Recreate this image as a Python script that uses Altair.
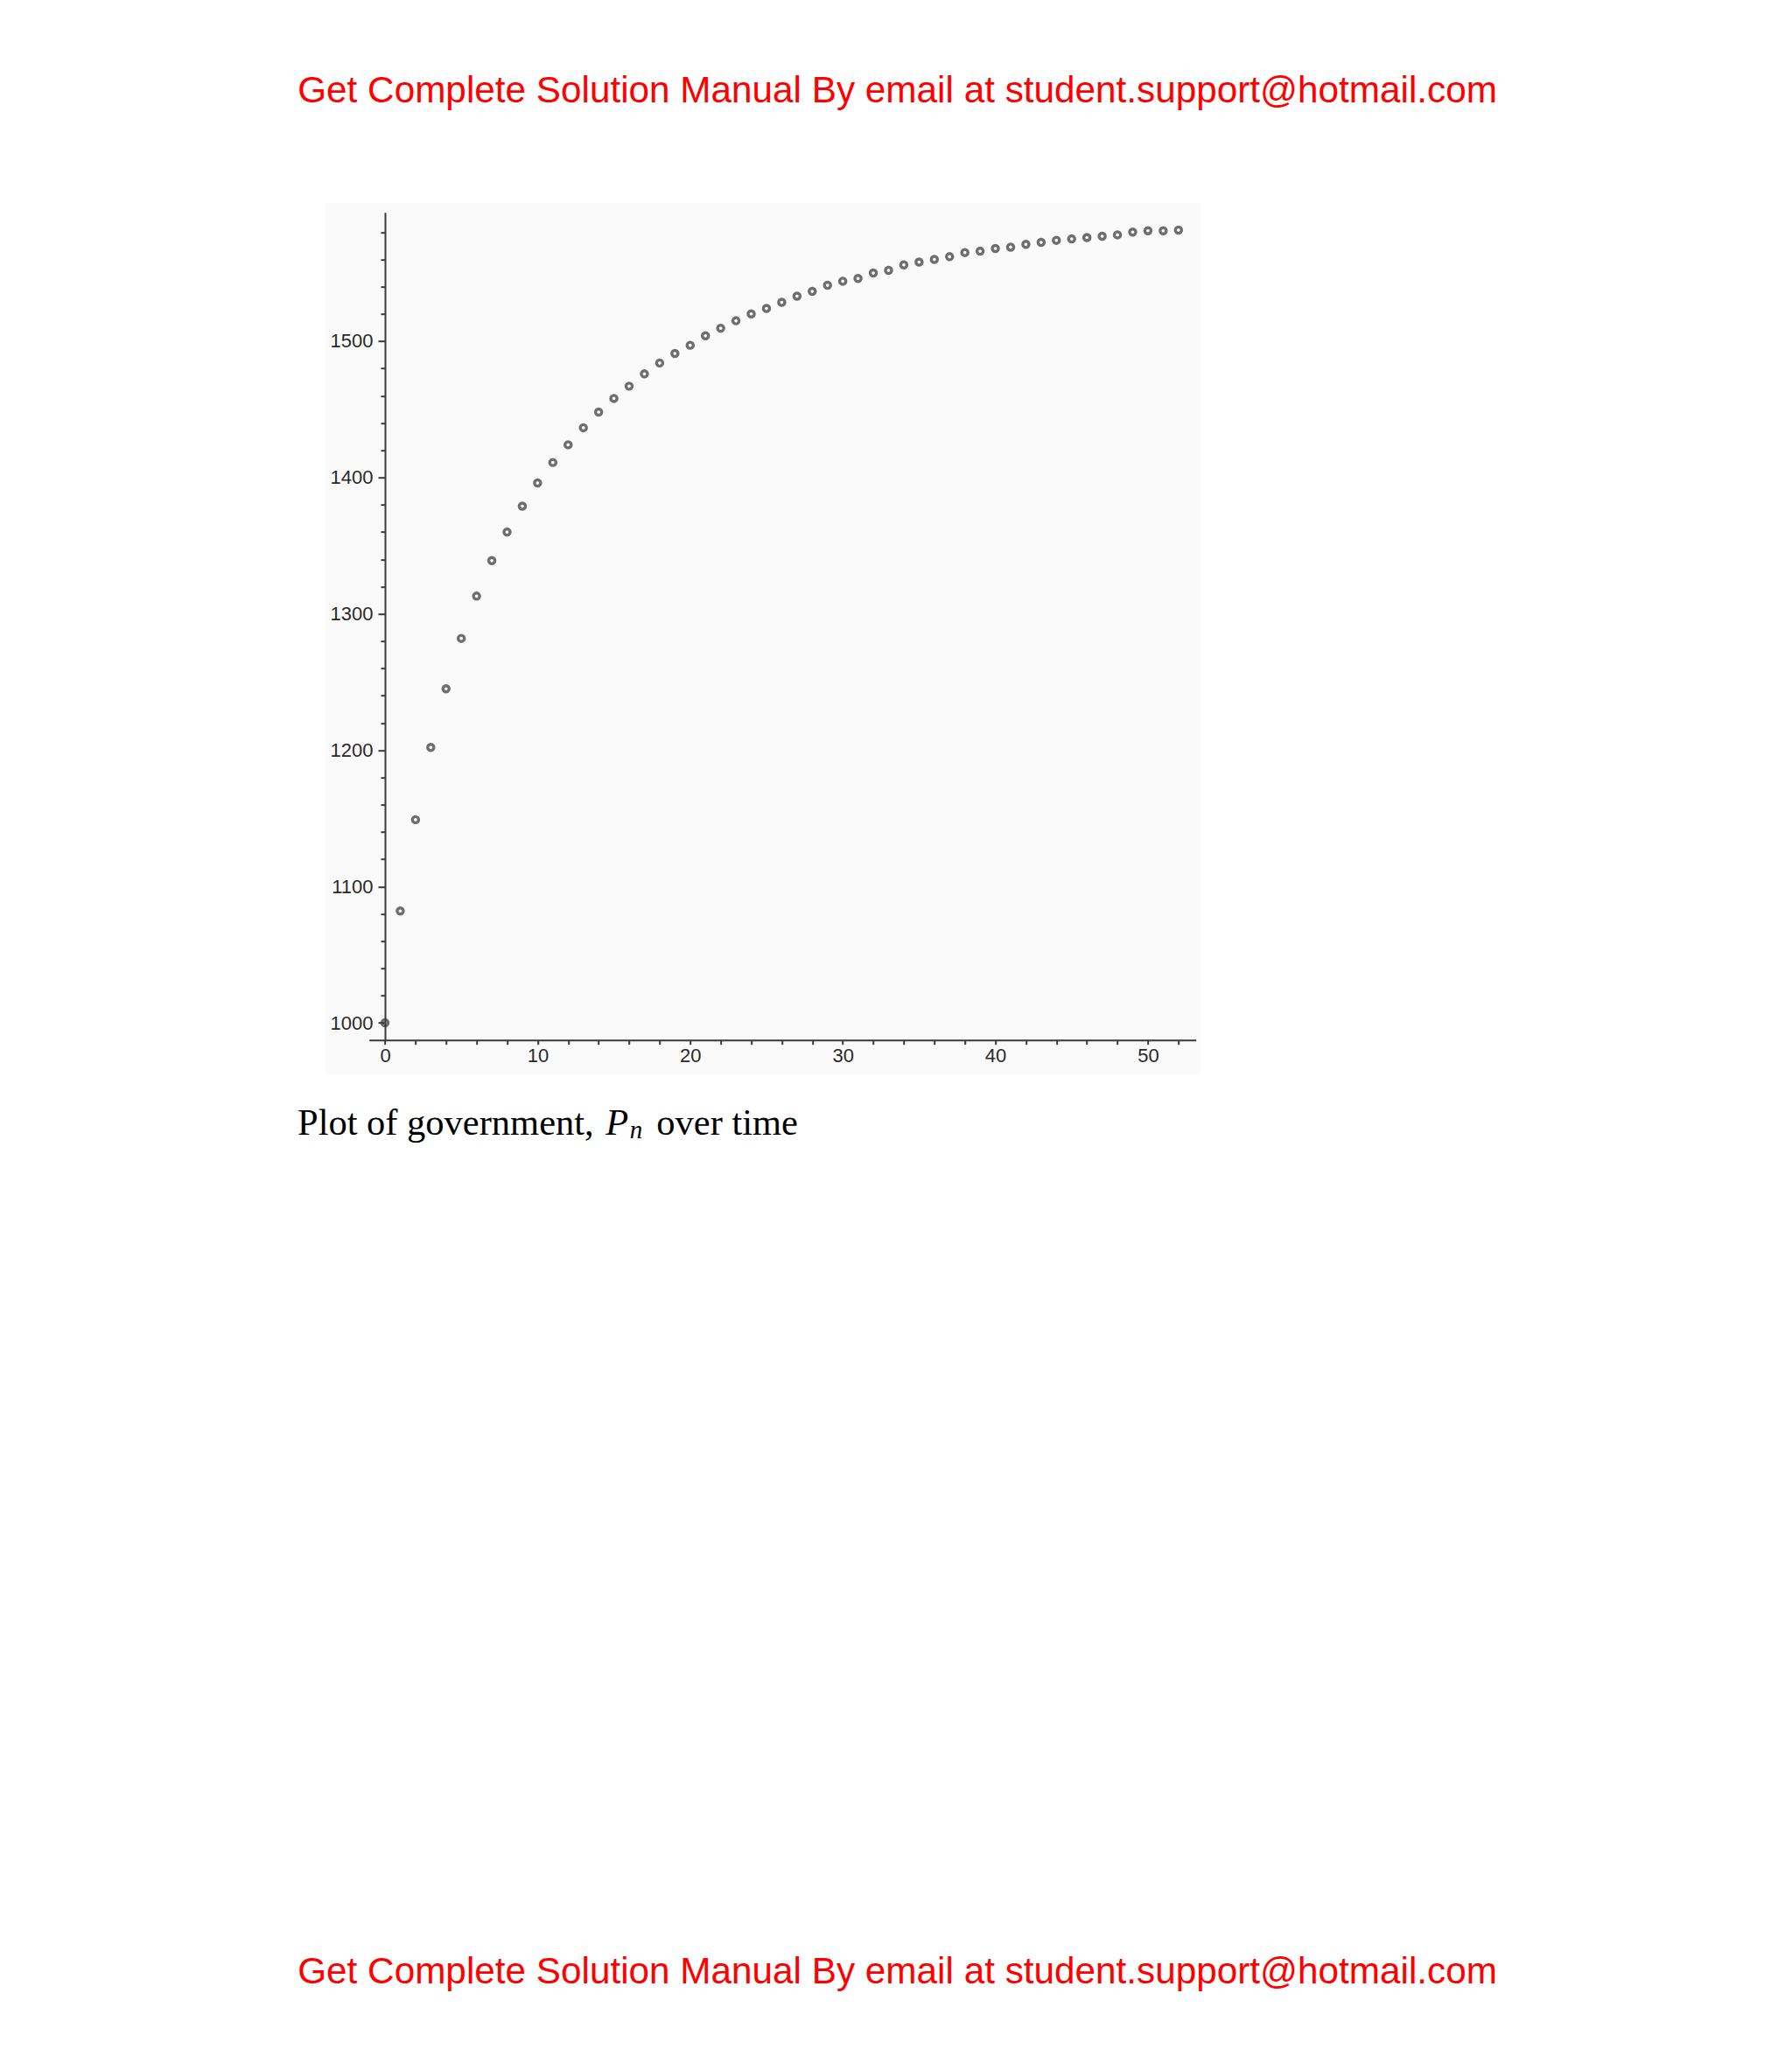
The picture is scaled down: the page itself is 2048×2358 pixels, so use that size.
import altair as alt
import pandas as pd

# ---- data ----
n_values = list(range(0, 53))
p_values = [1000, 1082, 1149, 1202, 1245, 1282, 1313, 1339, 1360, 1379,
            1396, 1411, 1424, 1436.5, 1448, 1458, 1467, 1476, 1484, 1491,
            1497, 1504, 1509.5, 1515, 1520, 1524, 1528.5, 1533, 1536.5, 1541,
            1544, 1546, 1550, 1552, 1556, 1558, 1560, 1562, 1565, 1566,
            1568, 1569, 1571, 1572.5, 1574, 1575, 1576, 1577, 1578, 1580,
            1581, 1581, 1581.5]
x_ticks = list(range(0, 53, 2))
y_ticks = list(range(1000, 1581, 20))
header_text = ["Get Complete Solution Manual By email at student.support@hotmail.com"]
caption_parts = ["Plot of government,", "P", "n", "over time"]

df = pd.DataFrame({"n": n_values, "P": p_values})

W, H = 945, 946

x_scale = alt.Scale(domain=[-1.05, 53.14], nice=False, zero=False)
y_scale = alt.Scale(domain=[987.4, 1594.5], nice=False, zero=False)

AX = dict(domainColor="#3a3a3a", domainWidth=2, tickColor="#3a3a3a", tickWidth=2,
          labelFont="Liberation Sans", labelFontSize=22, labelColor="#2a2a2a",
          grid=False, title=None, zindex=1)

points = alt.Chart(df).mark_point(shape="circle", filled=False, stroke="#6e6e6e",
                                  strokeWidth=3.4, size=50, opacity=1).encode(
    x=alt.X("n:Q", scale=x_scale,
            axis=alt.Axis(values=x_ticks, tickSize=5, labelPadding=3,
                          labelExpr="datum.value % 10 === 0 ? datum.label : ''",
                          labelFlush=False, labelOverlap=False, **AX)),
    y=alt.Y("P:Q", scale=y_scale,
            axis=alt.Axis(values=y_ticks, offset=-18.3,
                          tickSize={"condition": {"test": "datum.value % 100 === 0", "value": 8}, "value": 5},
                          labelPadding=6,
                          labelExpr="datum.value % 100 === 0 ? datum.label : ''",
                          labelFlush=False, labelOverlap=False, format="d", **AX)),
)

bg = alt.Chart(pd.DataFrame({"k": [0]})).mark_rect(color="#fafafa").encode(
    x=alt.value(-49.7), x2=alt.value(950.3), y=alt.value(-10.7), y2=alt.value(985.3)
)

hdr_df = pd.DataFrame({"t": header_text})
header_top = alt.Chart(hdr_df).mark_text(
    font="Liberation Sans", fontSize=42.3, color="#ff0000", align="left", baseline="alphabetic"
).encode(text="t:N", x=alt.value(-81.5), y=alt.value(-125.4))
header_bottom = alt.Chart(hdr_df).mark_text(
    font="Liberation Sans", fontSize=42.3, color="#ff0000", align="left", baseline="alphabetic"
).encode(text="t:N", x=alt.value(-81.5), y=alt.value(2024.6))

def cap(i, x, y, size, style="normal"):
    return alt.Chart(pd.DataFrame({"t": [caption_parts[i]]})).mark_text(
        font="Liberation Serif", fontSize=size, fontStyle=style, color="#000000",
        align="left", baseline="alphabetic"
    ).encode(text="t:N", x=alt.value(x), y=alt.value(y))

caption = (cap(0, -81.7, 1054.0, 42.5) + cap(1, 270.5, 1054.0, 42.5, "italic")
           + cap(2, 298.0, 1058.0, 29, "italic") + cap(3, 328.6, 1054.0, 42.5))

chart = alt.layer(bg, points, header_top, header_bottom, caption).properties(
    width=W, height=H,
    autosize=alt.AutoSizeParams(type="none"),
    padding={"left": 413.7, "top": 234.7, "right": 640, "bottom": 1100},
    background="#ffffff",
).configure_view(stroke=None, fill=None)

chart.save("out.html", embed_options={"renderer": "svg", "actions": False})
